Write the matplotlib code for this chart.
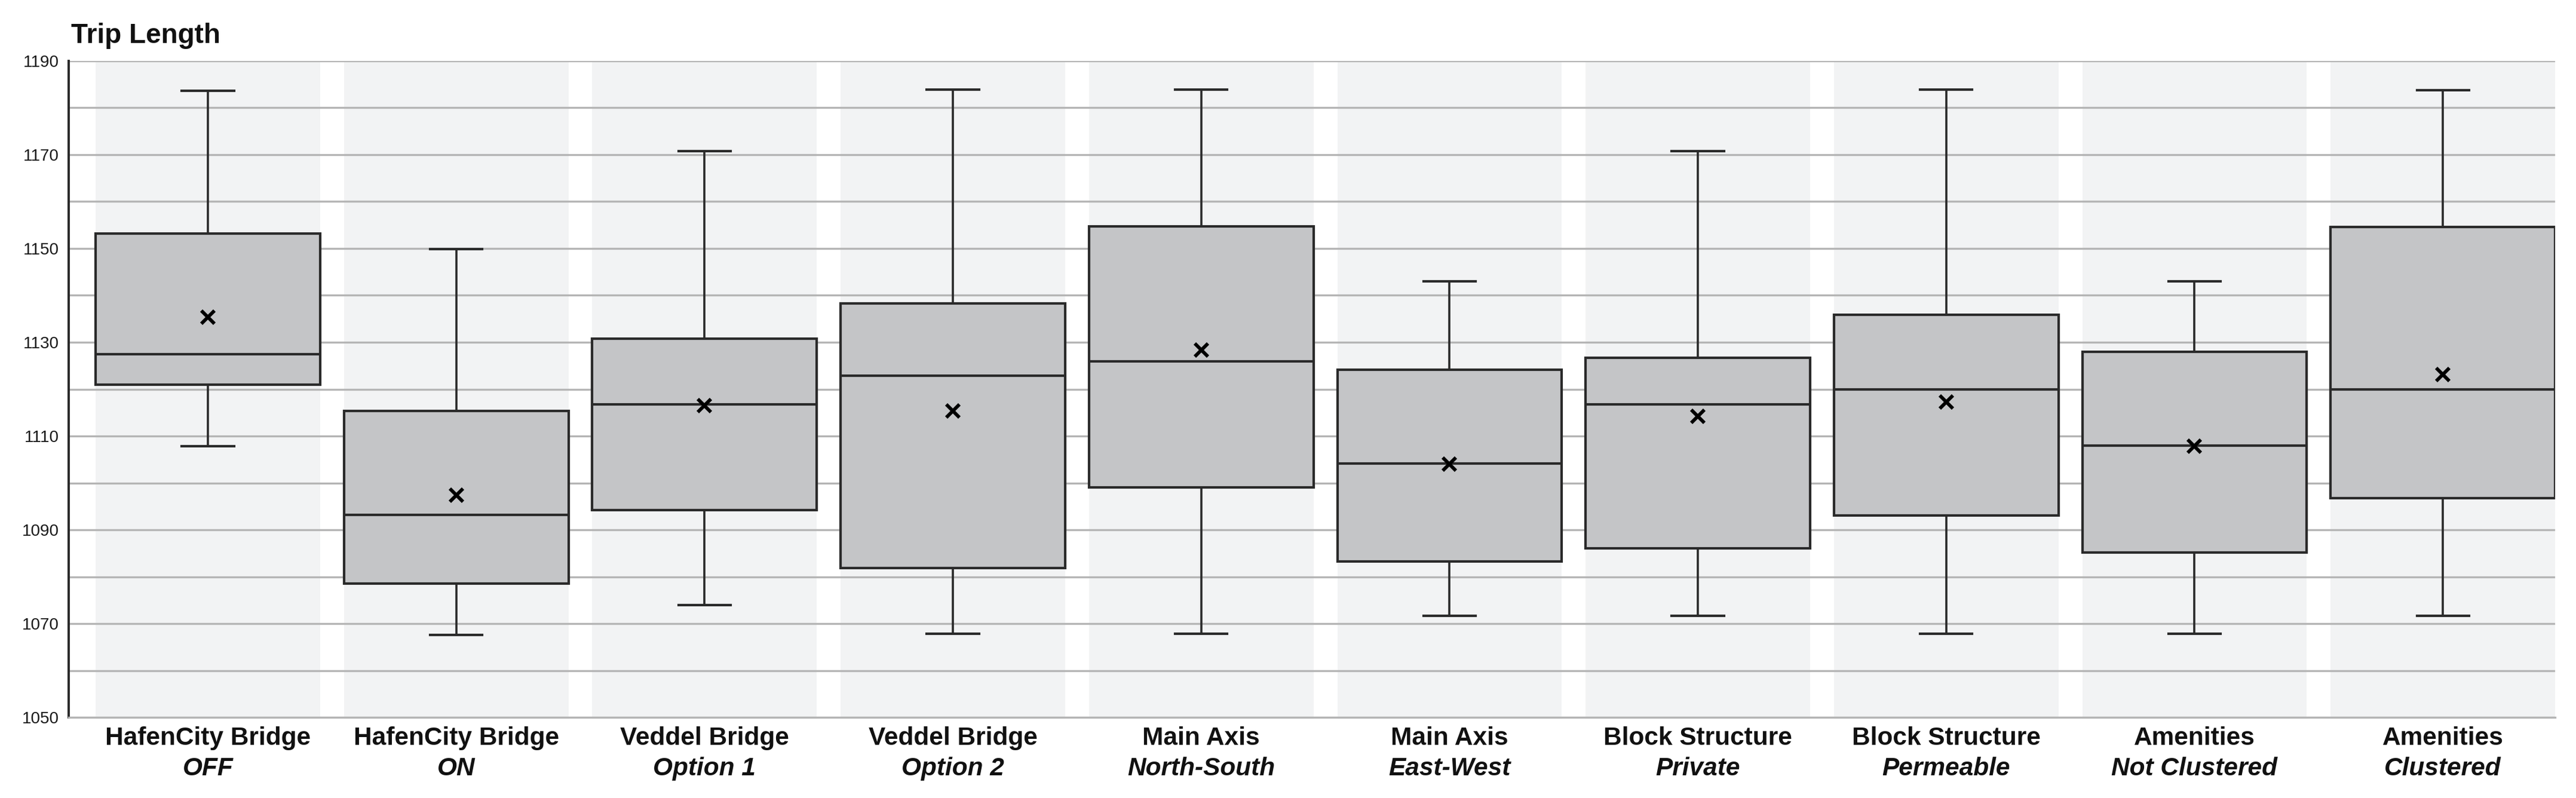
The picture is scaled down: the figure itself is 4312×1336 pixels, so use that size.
import numpy as np
import matplotlib
matplotlib.use("Agg")
import matplotlib.pyplot as plt

plt.rcParams['font.family'] = ['Liberation Sans', 'DejaVu Sans']

# Scenario names (two lines under each box)
cat_main = ['HafenCity Bridge', 'HafenCity Bridge', 'Veddel Bridge', 'Veddel Bridge',
            'Main Axis', 'Main Axis', 'Block Structure', 'Block Structure',
            'Amenities', 'Amenities']
cat_sub = ['OFF', 'ON', 'Option 1', 'Option 2', 'North-South', 'East-West',
           'Private', 'Permeable', 'Not Clustered', 'Clustered']

# Box statistics
whis_lo = [1107.8, 1067.6, 1074.0, 1067.9, 1067.9, 1071.6, 1071.7, 1067.8, 1067.8, 1071.7]
q1 = [1121.0, 1078.5, 1094.2, 1081.9, 1099.0, 1083.3, 1086.0, 1093.0, 1085.2, 1096.7]
median = [1127.4, 1093.2, 1116.7, 1122.9, 1125.9, 1104.2, 1116.8, 1120.0, 1107.9, 1120.0]
q3 = [1153.2, 1115.3, 1130.8, 1138.3, 1154.7, 1124.1, 1126.7, 1135.9, 1127.9, 1154.6]
whis_hi = [1183.6, 1149.9, 1170.8, 1183.9, 1183.9, 1143.0, 1170.8, 1183.9, 1143.0, 1183.7]
means = [1135.4, 1097.4, 1116.5, 1115.3, 1128.4, 1104.0, 1114.2, 1117.2, 1107.8, 1123.1]

stats = []
for i in range(len(cat_main)):
    stats.append(dict(whislo=whis_lo[i], q1=q1[i], med=median[i], q3=q3[i],
                      whishi=whis_hi[i], mean=means[i], fliers=[]))

pos = np.arange(len(cat_main))
w = 0.904
dark = '#2a2a2a'

fig = plt.figure(figsize=(43.12, 13.36), dpi=100)
ax = fig.add_axes([0.0267, 0.101, 0.9652, 0.8227])

# light grey background band behind each scenario
for p in pos:
    ax.axvspan(p - w / 2, p + w / 2, color='#f2f3f4', zorder=0, lw=0)

ax.bxp(stats, positions=pos, widths=w, capwidths=0.21, showmeans=True,
       patch_artist=True, manage_ticks=False,
       boxprops=dict(facecolor='#c4c5c7', edgecolor=dark, linewidth=3.0),
       medianprops=dict(color=dark, linewidth=3.0),
       whiskerprops=dict(color=dark, linewidth=2.6),
       capprops=dict(color=dark, linewidth=3.0),
       meanprops=dict(marker='x', markeredgecolor='black', markersize=16,
                      markeredgewidth=4.2))

ax.set_xlim(-0.56, len(pos) - 1 + w / 2)
ax.set_ylim(1050, 1190)
ax.set_yticks(np.arange(1050, 1191, 20))
ax.set_yticks(np.arange(1050, 1191, 10), minor=True)
ax.set_axisbelow(True)
ax.grid(axis='y', which='both', color='#b5b5b5', linewidth=2.4)
ax.tick_params(axis='y', which='both', length=0, pad=12, labelsize=20, labelcolor='#1a1a1a')
ax.tick_params(axis='x', length=0)
ax.set_xticks([])

for s in ['top', 'right']:
    ax.spines[s].set_visible(False)
ax.spines['bottom'].set_color('#b5b5b5')
ax.spines['bottom'].set_linewidth(2.4)
ax.spines['left'].set_color(dark)
ax.spines['left'].set_linewidth(2.8)

for p, a, b in zip(pos, cat_main, cat_sub):
    ax.annotate(a, xy=(p, 0), xycoords=('data', 'axes fraction'), xytext=(0, -33),
                textcoords='offset points', ha='center', va='baseline',
                fontsize=30.5, fontweight='bold', color='#111111')
    ax.annotate(b, xy=(p, 0), xycoords=('data', 'axes fraction'), xytext=(0, -70),
                textcoords='offset points', ha='center', va='baseline',
                fontsize=30.5, fontweight='bold', fontstyle='italic', color='#111111')

fig.text(0.0276, 0.946, 'Trip Length', fontsize=33, fontweight='bold',
         ha='left', va='baseline', color='#111111')

fig.savefig('out.png', dpi=100)
